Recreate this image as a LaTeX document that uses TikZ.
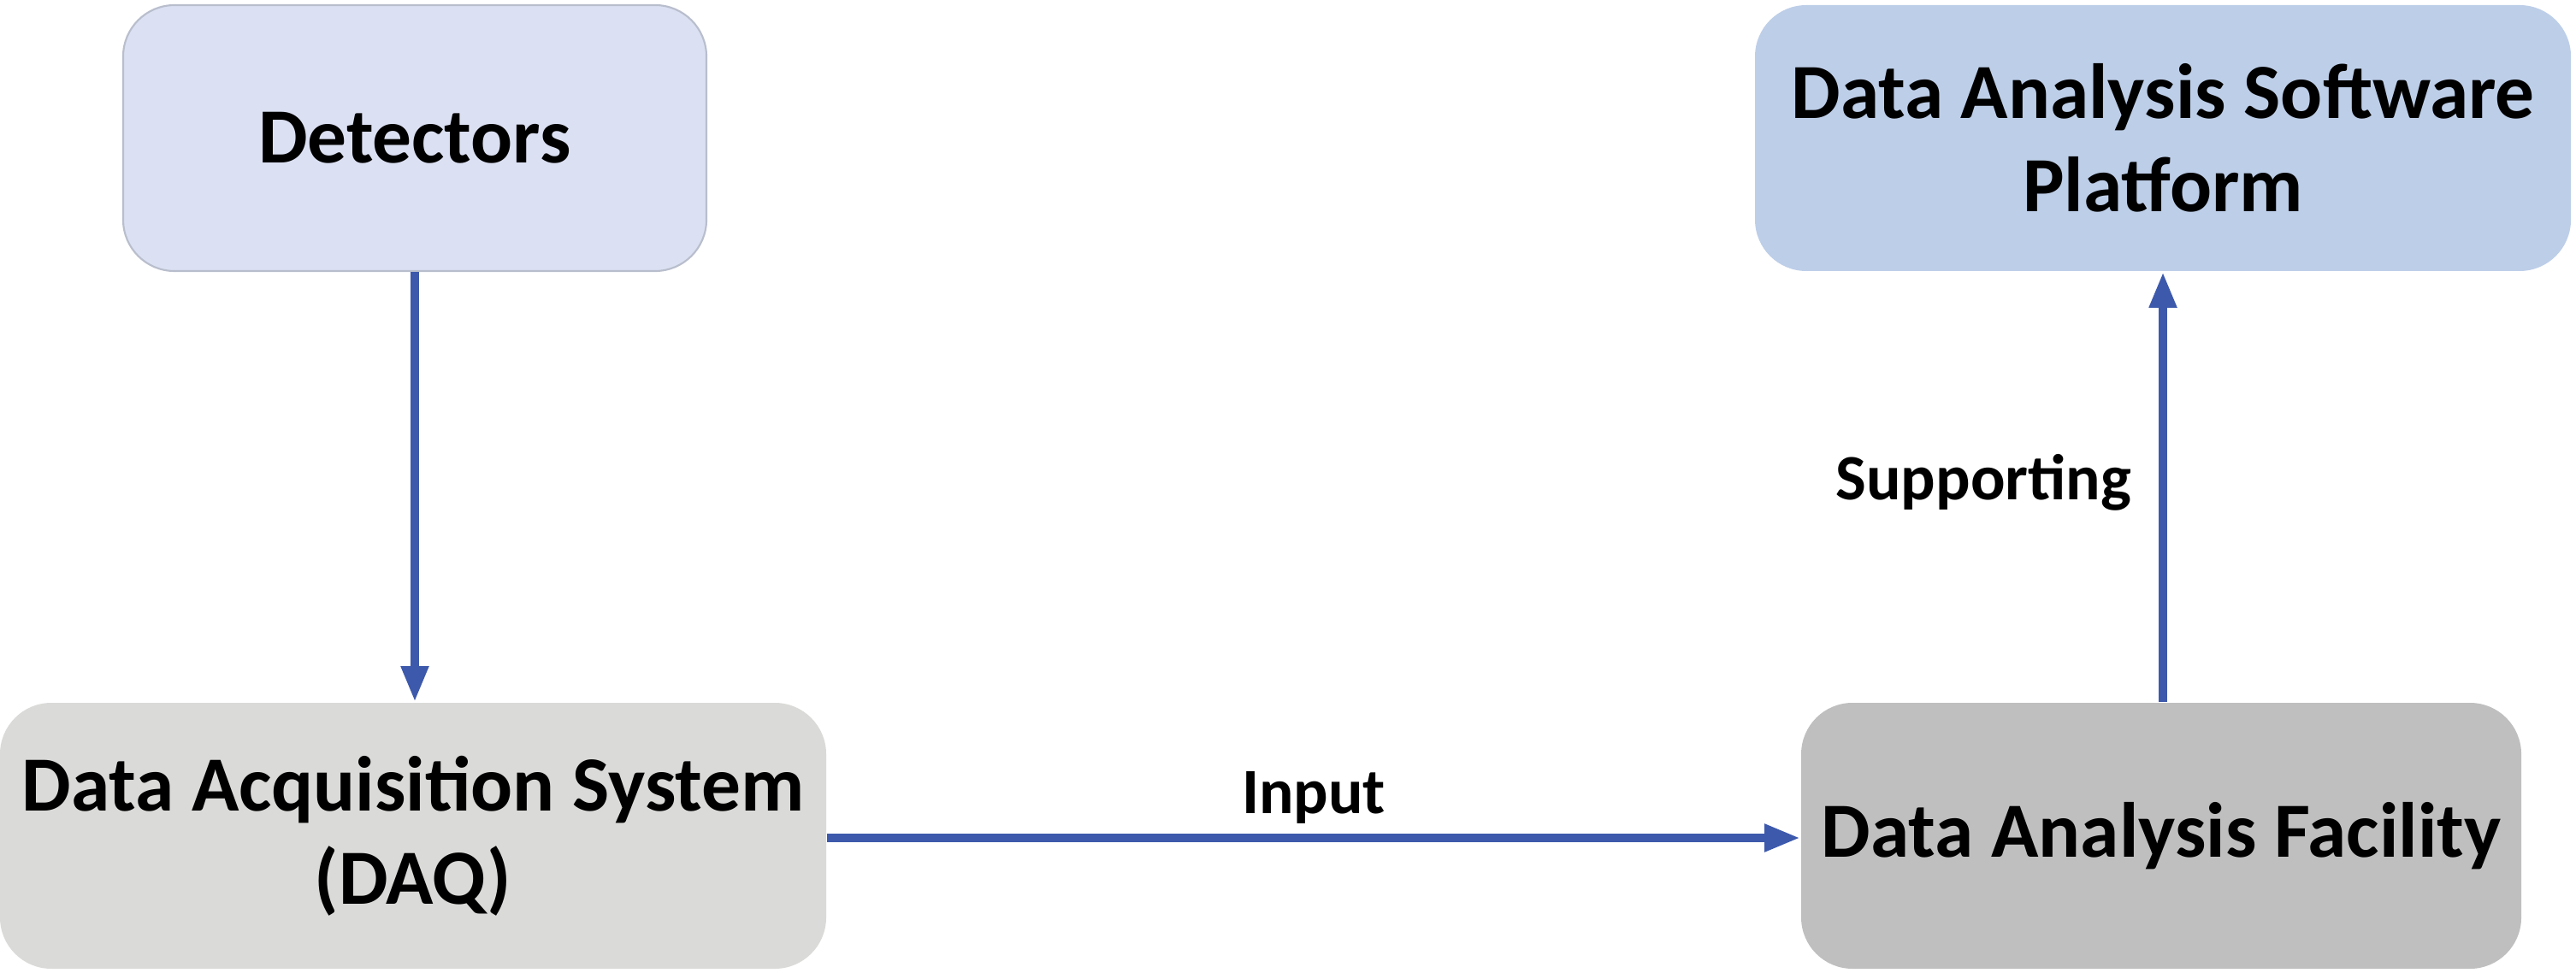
\documentclass[tikz,border=0pt]{standalone}
\usepackage{fontspec}
\setmainfont{Carlito}
\usepackage{xcolor}
\usepackage{tikz}
\usetikzlibrary{arrows.meta,positioning}
\definecolor{detfill}{RGB}{219,224,242}
\definecolor{detline}{RGB}{185,190,205}
\definecolor{softfill}{RGB}{189,206,232}
\definecolor{daqfill}{RGB}{218,218,216}
\definecolor{facfill}{RGB}{191,191,191}
\definecolor{flowblue}{RGB}{61,89,171}
\tikzset{
  blk/.style={rectangle,rounded corners=0.6cm,inner sep=0pt,minimum height=3.11cm,align=center,
    font=\fontsize{26}{31}\selectfont\bfseries},
  detv/.style={blk,fill=detfill,draw=detline,line width=.6pt,minimum width=6.82cm},
  softv/.style={blk,fill=softfill,minimum width=9.54cm},
  daqv/.style={blk,fill=daqfill,minimum width=9.66cm},
  facv/.style={blk,fill=facfill,minimum width=8.42cm},
  flow/.style={line width=3pt,flowblue,-{Triangle[length=12pt,width=8.5pt]}},
  lab/.style={font=\fontsize{21.5}{25}\selectfont\bfseries,text=black,inner sep=0pt}
}
\begin{document}
\begin{tikzpicture}
  \useasboundingbox (0,0) rectangle (30.12,11.37);
  \node[detv] (det) at (4.85,9.755) {Detectors};
  \node[softv] (soft) at (25.29,9.755) {Data Analysis Software\\Platform};
  \node[daqv] (daq) at (4.83,1.595) {Data Acquisition System\\(DAQ)};
  \node[facv] (fac) at (25.27,1.595) {Data Analysis Facility};
  \draw[flow] (det) -- (det |- daq.north);
  \draw[flow] (daq.east |- 0,1.57) -- node[lab,midway,above=3.3pt] {Input} (fac.west |- 0,1.57);
  \draw[flow] (fac.north -| soft) -- node[lab,pos=.51,left=9pt] {Supporting} (soft);
\end{tikzpicture}
\end{document}
